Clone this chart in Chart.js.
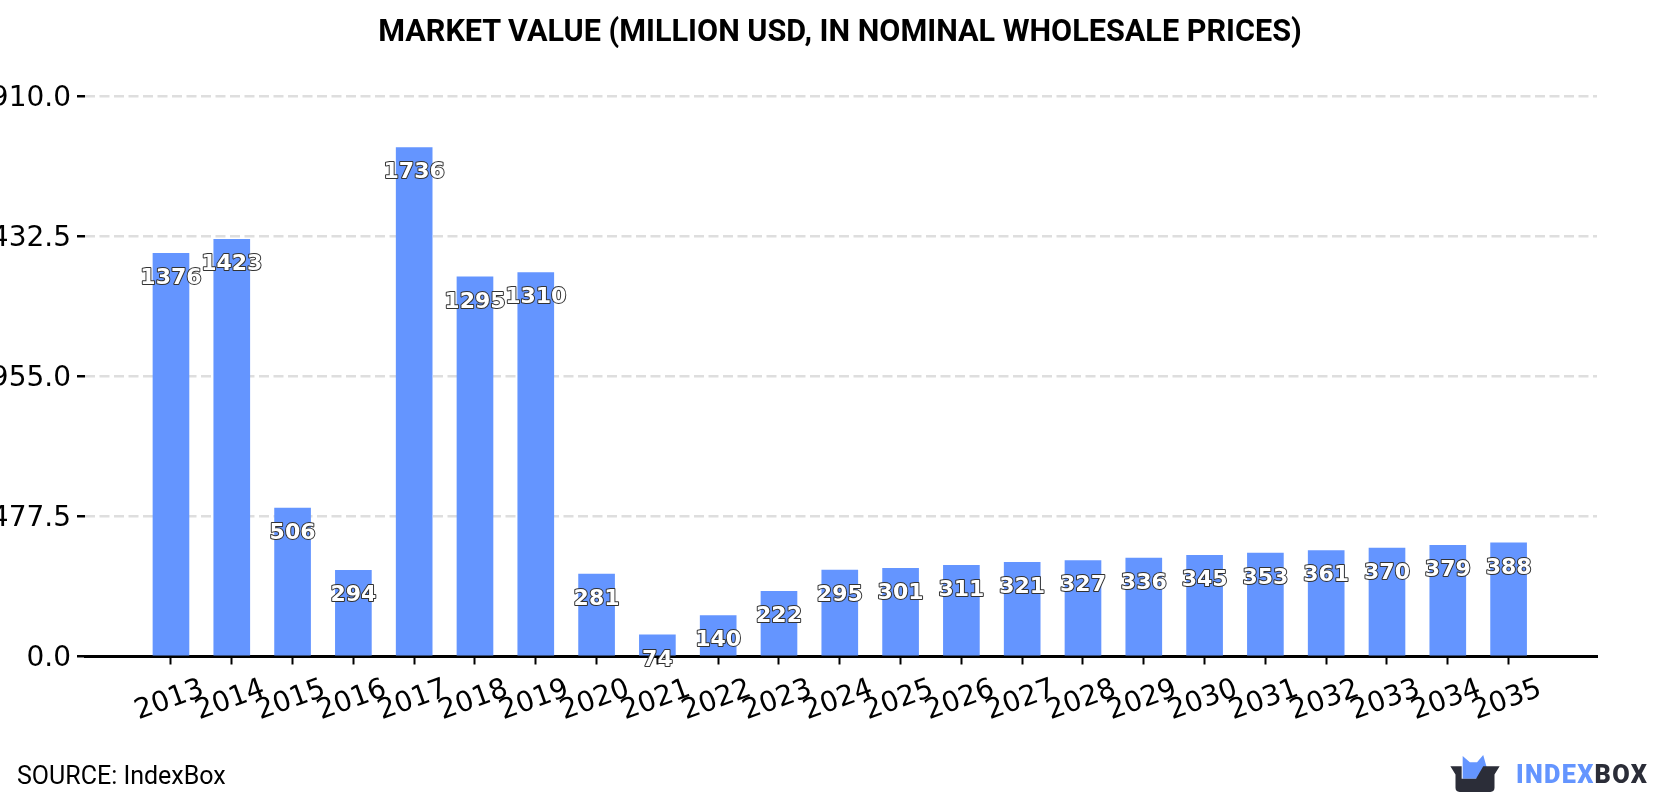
<!DOCTYPE html>
<html>
<head>
<meta charset="utf-8">
<title>Market value</title>
<script src="https://cdn.jsdelivr.net/npm/chart.js@4"></script>
<style>
  html, body { margin: 0; padding: 0; background: #fff; overflow: hidden; }
  #wrap { position: relative; width: 1680px; height: 800px; }
  #title { position: absolute; left: 0; width: 1680px; top: 13px; text-align: center; font: bold 30.6px Roboto, sans-serif; color: #000; }
  #source { position: absolute; left: 17px; top: 761px; font: 25px Roboto, sans-serif; color: #000; }
  #brand { position: absolute; left: 1449px; top: 754px; width: 52px; height: 39px; }
  #brand-name { position: absolute; left: 1516px; top: 760px; font: 900 25.3px Roboto, sans-serif; letter-spacing: 1.3px; color: #2b2d38; }
  #brand-name span { color: #6495ff; }
</style>
</head>
<body>
<div id="wrap">
  <canvas id="chart" width="1680" height="800"></canvas>
  <div id="title">MARKET VALUE (MILLION USD, IN NOMINAL WHOLESALE PRICES)</div>
  <div id="source">SOURCE: IndexBox</div>
  <svg id="brand" viewBox="0 0 50 38">
    <path d="M13 15 L13 2 L20 8 L27 8 L33 1 L37 15 L26 24 L13 24 Z" fill="#6495ff"/>
    <path d="M1 12 L12 12 L12 24 L26 24 L33 12 L49 12 L44 20 L44 33 Q44 37 40 37 L10 37 Q6 37 6 33 L6 20 Z" fill="#2b2d38"/>
  </svg>
  <div id="brand-name"><span>INDEX</span>BOX</div>
</div>
<script>
const years = [2013, 2014, 2015, 2016, 2017, 2018, 2019, 2020, 2021, 2022, 2023, 2024,
               2025, 2026, 2027, 2028, 2029, 2030, 2031, 2032, 2033, 2034, 2035];
const marketValue = [1376, 1423, 506, 294, 1736, 1295, 1310, 281, 74, 140, 222, 295,
                     301, 311, 321, 327, 336, 345, 353, 361, 370, 379, 388];
const yTicks = [0, 477.5, 955, 1432.5, 1910];

// writes each value inside its bar, white with a dark outline
const valueLabels = {
  id: 'valueLabels',
  afterDatasetsDraw(chart) {
    const ctx = chart.ctx;
    const bars = chart.getDatasetMeta(0).data;
    ctx.save();
    ctx.font = 'bold 22px "DejaVu Sans"';
    ctx.textAlign = 'center';
    ctx.textBaseline = 'middle';
    ctx.lineJoin = 'round';
    bars.forEach((bar, i) => {
      const text = String(marketValue[i]);
      ctx.lineWidth = 2;
      ctx.strokeStyle = '#333';
      ctx.strokeText(text, bar.x, bar.y + 25);
      ctx.fillStyle = '#fff';
      ctx.fillText(text, bar.x, bar.y + 25);
    });
    ctx.restore();
  }
};

new Chart(document.getElementById('chart'), {
  type: 'bar',
  data: {
    labels: years,
    datasets: [{
      data: marketValue,
      backgroundColor: '#6495ff',
      barThickness: 36
    }]
  },
  options: {
    responsive: false,
    animation: false,
    layout: { autoPadding: false, padding: { left: 0, right: 83, top: 96.7, bottom: 0 } },
    plugins: {
      legend: { display: false },
      tooltip: { enabled: false }
    },
    scales: {
      x: {
        type: 'linear',
        offset: false,
        min: 2011.586,
        max: 2036.454,
        afterBuildTicks(scale) { scale.ticks = years.map(v => ({ value: v })); },
        afterFit(scale) { scale.height = 143.5; },
        grid: { offset: false, drawOnChartArea: false, tickLength: 8, tickColor: '#000', tickWidth: 2 },
        border: { color: '#000', width: 3 },
        ticks: {
          autoSkip: false,
          minRotation: 20,
          maxRotation: 20,
          labelOffset: 32,
          padding: 8,
          color: '#000',
          font: { family: 'DejaVu Sans', size: 28 },
          callback: v => String(v)
        }
      },
      y: {
        min: 0,
        max: 1910,
        afterBuildTicks(scale) { scale.ticks = yTicks.map(v => ({ value: v })); },
        afterFit(scale) { scale.width = 85; },
        grid: {
          color: '#dedede',
          lineWidth: 2.5,
          tickColor: '#000',
          tickWidth: 2.5,
          tickLength: 8,
          tickBorderDash: []
        },
        border: { display: false, dash: [10, 4.5] },
        ticks: {
          padding: 6,
          labelOffset: 2,
          color: '#000',
          font: { family: 'DejaVu Sans', size: 28 },
          callback: v => v.toFixed(1)
        }
      }
    }
  },
  plugins: [valueLabels]
});
</script>
</body>
</html>
